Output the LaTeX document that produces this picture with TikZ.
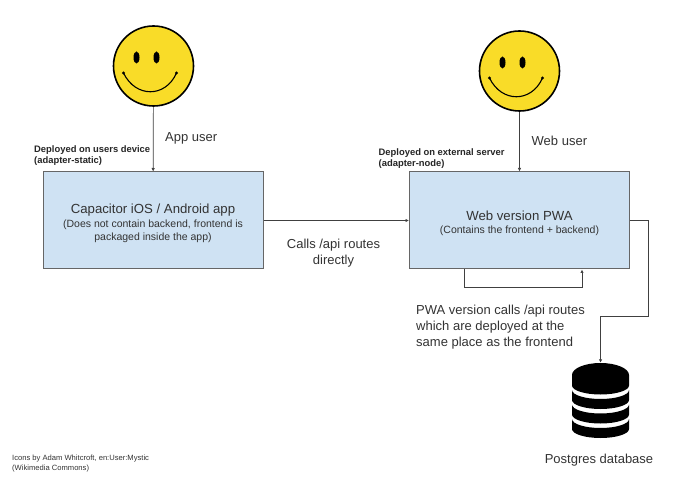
\documentclass[tikz,border=0pt]{standalone}
\usepackage{fontspec}
\setmainfont{Liberation Sans}
\usetikzlibrary{positioning,arrows.meta}
\definecolor{boxblue}{HTML}{CFE2F3}
\definecolor{boxline}{HTML}{666666}
\definecolor{facegold}{HTML}{F9DC28}
\definecolor{inktext}{HTML}{333333}
\newcommand{\subfont}{\fontsize{10.5}{13}\selectfont}
\newcommand{\titlestrut}{\rule{0pt}{15pt}}
\tikzset{
  appbox/.style = {draw=boxline, fill=boxblue, line width=1pt, minimum width=220pt,
    minimum height=97pt, inner sep=0pt, align=center, text=inktext, font=\fontsize{13.2}{15}\selectfont},
  face/.style = {circle, draw=black, fill=facegold, line width=1.6pt, minimum size=80pt, inner sep=0pt},
  note/.style = {align=left, inner sep=0pt, text=inktext, font=\fontsize{13}{16.2}\selectfont},
  deploy/.style = {align=left, inner sep=0pt, anchor=north west, text=black!85, font=\fontsize{9.4}{11.5}\selectfont\bfseries},
  link/.style = {draw=black!75, line width=.7pt, -{Latex[length=3.5pt,width=3.5pt]}}
}
\begin{document}
\begin{tikzpicture}[x=1pt, y=-1pt]
  \useasboundingbox (0,0) rectangle (680,486);
  \fill[white] (0,0) rectangle (680,486);

  \node[appbox] (capacitor) at (153,220.5) {\titlestrut Capacitor iOS / Android app\\[-1.5pt]\subfont (Does not contain backend, frontend is\\[-2pt]\subfont packaged inside the app)};
  \node[appbox] (pwa) at (519.5,220.5) {\titlestrut Web version PWA\\[-1.5pt]\subfont (Contains the frontend + backend)};

  \foreach \name/\x/\y in {appface/153.5/66, webface/519.5/71} {
    \node[face] (\name) at (\x,\y) {};
    \fill (\x-17,\y-8.5) ellipse (3pt and 6pt);
    \fill (\x+3,\y-8.5) ellipse (3pt and 6pt);
    \draw[line width=1.1pt] (\x-30,\y+7) .. controls (\x-18,\y+32) and (\x+12,\y+32) .. (\x+23,\y+7);
    \fill (\x-30,\y+7) circle (1.6pt) (\x+23,\y+7) circle (1.6pt);
  }

  \node[inner sep=0pt, minimum width=57pt, minimum height=75pt] (postgres) at (600.5,400.5) {};
  \fill (572,375) arc[start angle=180, end angle=0, x radius=28.5pt, y radius=12pt] -- (629,385.5)
    arc[start angle=0, end angle=-180, x radius=28.5pt, y radius=9pt] -- cycle;
  \foreach \a/\b in {390/400, 404.5/414.5, 419/429} {
    \fill (572,\a) arc[start angle=180, end angle=360, x radius=28.5pt, y radius=9pt] -- (629,\b)
      arc[start angle=0, end angle=-180, x radius=28.5pt, y radius=9pt] -- cycle;
  }

  \draw[link] (appface) -- (capacitor);
  \draw[link] (webface) -- (pwa);
  \draw[link] (capacitor) -- (pwa);
  \draw[link] ([xshift=-55pt]pwa.south) -- ++(0,18) -| ([xshift=62.5pt]pwa.south);
  \draw[link] (pwa.east) -- ++(18,0) |- (600.5,316) -- (postgres.north);

  \node[note, anchor=west] (appuser) at (165,138.5) {App user};
  \node[note, anchor=west] (webuser) at (531.5,141) {Web user};
  \node[deploy] (appdeploy) at (34,145) {Deployed on users device\\(adapter-static)};
  \node[deploy] (webdeploy) at (378.5,148) {Deployed on external server\\(adapter-node)};
  \node[note, align=center] (direct) at (333.5,253) {Calls /api routes\\directly};
  \node[note, anchor=north west] (pwanote) at (416,304.5) {PWA version calls /api routes\\which are deployed at the\\same place as the frontend};
  \node[note, anchor=center] (dbname) at (599,460) {Postgres database};
  \node[align=left, inner sep=0pt, anchor=north west, text=inktext, font=\fontsize{7.6}{10}\selectfont] (credit) at (12,454.5) {Icons by Adam Whitcroft, en:User:Mystic\\(Wikimedia Commons)};
\end{tikzpicture}
\end{document}
